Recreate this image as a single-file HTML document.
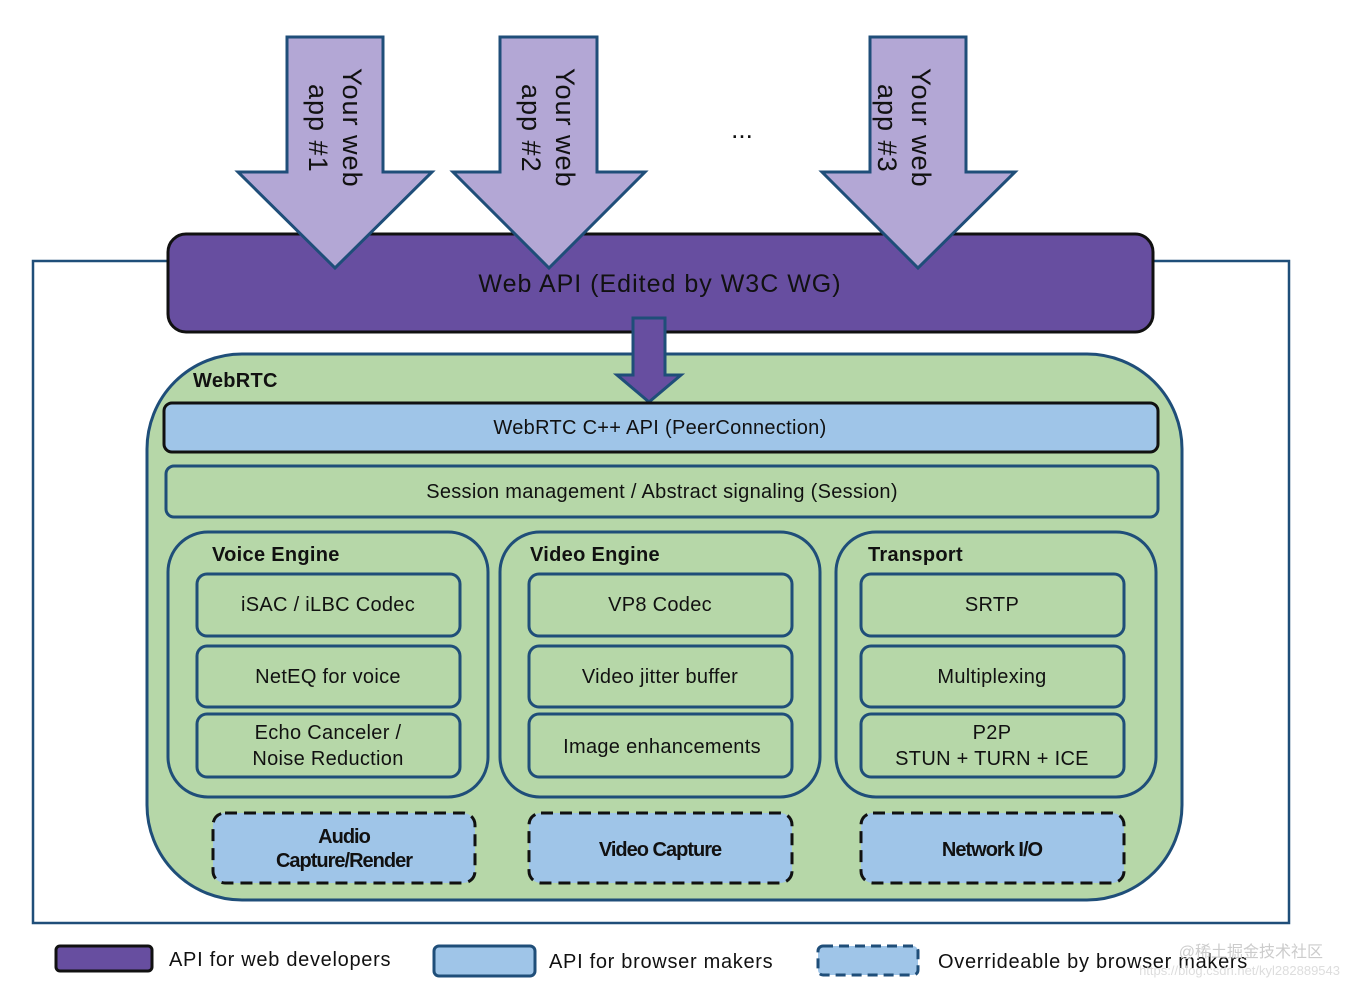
<!DOCTYPE html>
<html><head><meta charset="utf-8"><style>
html,body{margin:0;padding:0;background:#fff}
svg{display:block}
text{font-family:"Liberation Sans",sans-serif;fill:#111}
</style></head><body>
<svg width="1350" height="988" viewBox="0 0 1350 988" xmlns="http://www.w3.org/2000/svg">
<rect x="33" y="261" width="1256" height="662" fill="#fff" stroke="#1f4e79" stroke-width="2.5"/>
<rect x="168" y="234" width="985" height="98" rx="18" fill="#674ea0" stroke="#111" stroke-width="3"/>
<text x="660" y="292" font-size="25" text-anchor="middle" letter-spacing="1">Web API (Edited by W3C WG)</text>
<g fill="#b3a7d5" stroke="#1f4e79" stroke-width="3" stroke-linejoin="miter">
<polygon points="287,37 383,37 383,172 432,172 335,268 238,172 287,172"/>
<polygon points="500,37 597,37 597,172 645,172 549,268 453,172 500,172"/>
<polygon points="870,37 966,37 966,172 1015,172 918,268 822,172 870,172"/>
</g>
<g font-size="27" letter-spacing="1">
<text transform="translate(343,68) rotate(90)">Your web</text>
<text transform="translate(309,84) rotate(90)">app #1</text>
<text transform="translate(556,68) rotate(90)">Your web</text>
<text transform="translate(522,84) rotate(90)">app #2</text>
<text transform="translate(912,68) rotate(90)">Your web</text>
<text transform="translate(878,84) rotate(90)">app #3</text>
</g>
<text x="742" y="138" font-size="26" text-anchor="middle">...</text>
<rect x="147" y="354" width="1035" height="546" rx="95" fill="#b6d7a8" stroke="#1f4e79" stroke-width="3"/>
<polygon points="633,318 665,318 665,375 681,375 649,402 617,375 633,375" fill="#674ea0" stroke="#1f4e79" stroke-width="3"/>
<text x="193" y="387" font-size="20" font-weight="bold" letter-spacing="0.3">WebRTC</text>
<rect x="164" y="403" width="994" height="49" rx="8" fill="#9fc5e8" stroke="#111" stroke-width="3"/>
<text x="660" y="434" font-size="20" text-anchor="middle" letter-spacing="0.3">WebRTC C++ API (PeerConnection)</text>
<rect x="166" y="466" width="992" height="51" rx="8" fill="#b6d7a8" stroke="#1f4e79" stroke-width="3"/>
<text x="662" y="498" font-size="20" text-anchor="middle" letter-spacing="0.3">Session management / Abstract signaling (Session)</text>
<g fill="#b6d7a8" stroke="#1f4e79" stroke-width="3">
<rect x="168" y="532" width="320" height="265" rx="40"/>
<rect x="500" y="532" width="320" height="265" rx="40"/>
<rect x="836" y="532" width="320" height="265" rx="40"/>
<rect x="197" y="574" width="263" height="62" rx="10"/>
<rect x="197" y="646" width="263" height="61" rx="10"/>
<rect x="197" y="714" width="263" height="63" rx="10"/>
<rect x="529" y="574" width="263" height="62" rx="10"/>
<rect x="529" y="646" width="263" height="61" rx="10"/>
<rect x="529" y="714" width="263" height="63" rx="10"/>
<rect x="861" y="574" width="263" height="62" rx="10"/>
<rect x="861" y="646" width="263" height="61" rx="10"/>
<rect x="861" y="714" width="263" height="63" rx="10"/>
</g>
<g font-size="20" font-weight="bold" letter-spacing="0.3">
<text x="212" y="561">Voice Engine</text>
<text x="530" y="561">Video Engine</text>
<text x="868" y="561">Transport</text>
</g>
<g font-size="20" text-anchor="middle" letter-spacing="0.3">
<text x="328" y="611">iSAC / iLBC Codec</text>
<text x="328" y="683">NetEQ for voice</text>
<text x="328" y="739">Echo Canceler /</text>
<text x="328" y="765">Noise Reduction</text>
<text x="660" y="611">VP8 Codec</text>
<text x="660" y="683">Video jitter buffer</text>
<text x="662" y="753">Image enhancements</text>
<text x="992" y="611">SRTP</text>
<text x="992" y="683">Multiplexing</text>
<text x="992" y="739">P2P</text>
<text x="992" y="765">STUN + TURN + ICE</text>
</g>
<g fill="#9fc5e8" stroke="#111" stroke-width="3" stroke-dasharray="12,7">
<rect x="213" y="813" width="262" height="70" rx="12"/>
<rect x="529" y="813" width="263" height="70" rx="12"/>
<rect x="861" y="813" width="263" height="70" rx="12"/>
</g>
<g font-size="20" font-weight="bold" text-anchor="middle" letter-spacing="-1">
<text x="344" y="843">Audio</text>
<text x="344" y="867">Capture/Render</text>
<text x="660" y="856">Video Capture</text>
<text x="992" y="856">Network I/O</text>
</g>
<rect x="56" y="946" width="96" height="25" rx="4" fill="#674ea0" stroke="#111" stroke-width="3"/>
<rect x="434" y="946" width="101" height="30" rx="5" fill="#9fc5e8" stroke="#1f4e79" stroke-width="3"/>
<rect x="818" y="946" width="100" height="29" rx="5" fill="#9fc5e8" stroke="#1f4e79" stroke-width="3" stroke-dasharray="10,6"/>
<g font-size="20" letter-spacing="0.7">
<text x="169" y="966">API for web developers</text>
<text x="549" y="968">API for browser makers</text>
<text x="938" y="968">Overrideable by browser makers</text>
</g>
<text x="1323" y="957" font-size="16" text-anchor="end" style="fill:#ccc;font-family:'Liberation Sans','Noto Sans CJK SC',sans-serif">@稀土掘金技术社区</text>
<text x="1340" y="975" font-size="13" text-anchor="end" style="fill:#ddd">https://blog.csdn.net/kyl282889543</text>
</svg>
</body></html>
